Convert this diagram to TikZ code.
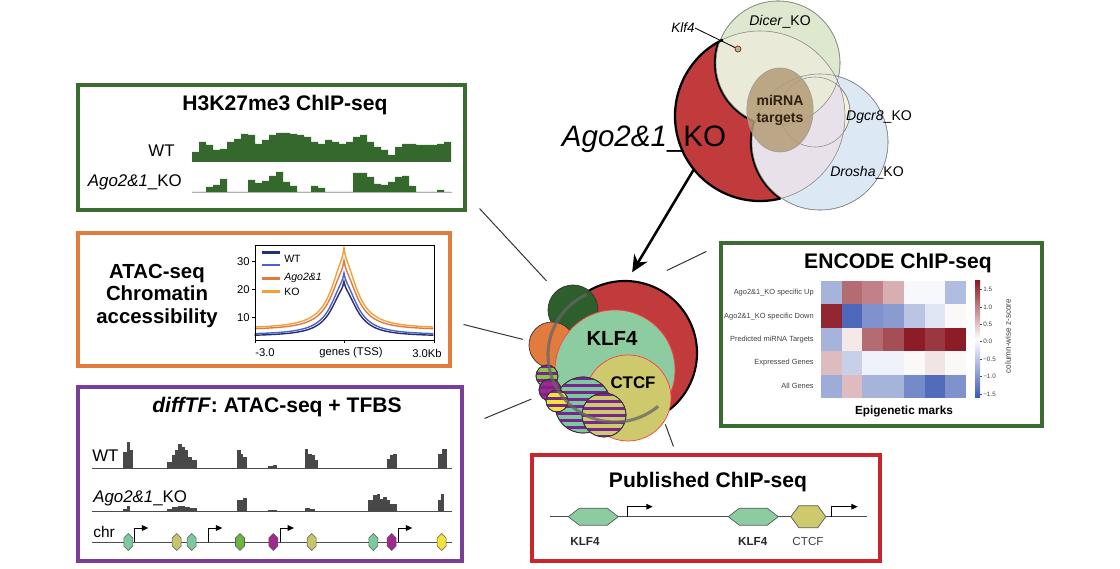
\documentclass[tikz,border=0pt]{standalone}
\usepackage{fontspec}
\setmainfont{Liberation Sans}
\usetikzlibrary{
    arrows.meta,
    fit,
    shapes.geometric
}
\definecolor{panelgreen}{RGB}{58,108,50}
\definecolor{panelorange}{RGB}{226,124,62}
\definecolor{panelpurple}{RGB}{122,62,150}
\definecolor{panelred}{RGB}{200,38,44}
\definecolor{h3trk}{RGB}{52,104,44}
\definecolor{atactrk}{RGB}{72,72,72}
\definecolor{wtnavy}{RGB}{40,45,120}
\definecolor{wtblue}{RGB}{75,100,200}
\definecolor{koorange}{RGB}{228,120,62}
\definecolor{kolight}{RGB}{240,162,52}
\definecolor{agored}{RGB}{193,58,60}
\definecolor{dicergreen}{RGB}{221,232,206}
\definecolor{droshablue}{RGB}{220,233,245}
\definecolor{dgcryellow}{RGB}{244,243,220}
\definecolor{overlapgreen}{RGB}{233,234,216}
\definecolor{overlaplav}{RGB}{233,225,234}
\definecolor{mirtan}{RGB}{180,156,118}
\definecolor{klfgreen}{RGB}{141,204,160}
\definecolor{ctcfolive}{RGB}{205,201,108}
\definecolor{hubdark}{RGB}{46,94,44}
\definecolor{tfteal}{RGB}{126,200,160}
\definecolor{tfolive}{RGB}{197,197,106}
\definecolor{tfgreen}{RGB}{109,179,63}
\definecolor{tfmagenta}{RGB}{160,40,143}
\definecolor{tfyellow}{RGB}{242,227,55}
\definecolor{stripepurple}{RGB}{118,38,140}
\definecolor{stripegreen}{RGB}{140,195,74}
\definecolor{hmred}{RGB}{140,28,38}
\definecolor{hmblue}{RGB}{58,88,178}
\tikzset{
  panel/.style   = {draw, line width=2.2pt, inner sep=0pt},
  ptitle/.style  = {font=\fontsize{15}{18}\selectfont\bfseries},
  trklab/.style  = {font=\fontsize{12}{14}\selectfont, inner sep=0pt},
  link/.style    = {black!80, line width=0.7pt},
  disc/.style    = {circle, draw=black!80, inner sep=0pt, line width=0.5pt},
  vdisc/.style   = {circle, draw=black!45, inner sep=0pt, line width=0.4pt},
  vlab/.style    = {font=\fontsize{10}{12}\selectfont, inner sep=0pt},
  site/.style    = {draw=black!65, line width=0.5pt},
  tss/.style     = {-{Triangle[length=4.5pt,width=4pt]}, line width=0.6pt}
}
\newcommand{\stripedisc}[6]{%
  \node[disc, fill=#5, minimum size={\dimexpr 0.05cm*#4\relax}] (#1) at (#2,#3) {};
  \begin{scope}
    \clip (#2,#3) circle (#4);
    \foreach \s in {0,7,...,56}
      \fill[#6] ({#2-#4},{#3-#4+\s}) rectangle ++({2*#4},3.5);
  \end{scope}
  \draw[black!80, line width=.5pt] (#2,#3) circle (#4);}
% x, y, half width, half height, tip, colour
\newcommand{\hsite}[6]{%
  \draw[site, fill=#6] ({#1-#3},#2) -- ({#1-#3+#5},{#2-#4}) -- ({#1+#3-#5},{#2-#4})
    -- ({#1+#3},#2) -- ({#1+#3-#5},{#2+#4}) -- ({#1-#3+#5},{#2+#4}) -- cycle;}
\newcommand{\vsite}[6]{%
  \draw[site, line width=.4pt, fill=#6] (#1,{#2-#4}) -- ({#1+#3},{#2-#4+#5}) -- ({#1+#3},{#2+#4-#5})
    -- (#1,{#2+#4}) -- ({#1-#3},{#2+#4-#5}) -- ({#1-#3},{#2-#4+#5}) -- cycle;}

\begin{document}
\begin{tikzpicture}[x=0.025cm, y=-0.025cm,
    hmlab/.style={font=\fontsize{5.3}{6}\selectfont, text=black!75, anchor=east, inner sep=0pt},
    cblab/.style={font=\fontsize{4.5}{5}\selectfont, text=black!75, anchor=west, inner sep=0pt},
    axlab/.style={font=\fontsize{8}{9}\selectfont, inner sep=0pt},
    leglab/.style={font=\fontsize{7.5}{9}\selectfont, inner sep=0pt, anchor=west},
    sitelab/.style={font=\fontsize{8.3}{10}\selectfont, inner sep=0pt},
    bigarr/.style={-{Stealth[length=12pt,width=11pt]}, line width=1.8pt}
  ]
  \useasboundingbox (0,0) rectangle (1120,569);

  \node[panel, draw=panelgreen,  fit={(78,85) (465,210)}]    (h3k)    {};
  \node[panel, draw=panelorange, fit={(78,233) (450,366)}]   (atac)   {};
  \node[panel, draw=panelpurple, fit={(78,387) (462,561)}]   (diff)   {};
  \node[panel, draw=panelgreen,  fit={(721,243) (1042,426)}] (encode) {};
  \node[panel, draw=panelred,    fit={(532,455) (880,561)}]  (pub)    {};

  % H3K27me3
  \node[ptitle] (h3ktitle) at (285,105) {H3K27me3 ChIP-seq};
  \node[trklab, anchor=base east] (h3kwt) at (175,157) {WT};
  \node[trklab, anchor=base east] (h3kko) at (182,187) {\textit{Ago2\&1}\_KO};
  \fill[h3trk] (192,162) \foreach \h [count=\i from 0] in {10,20,17,12,13,20,23,28,27,18,22,27,29,29,28,27,25,20,18,22,20,18,20,25,27,20,15,12,7,15,18,18,17,17,17,18,20}
    { -- ({192+7*\i},{162-\h}) -- ({199+7*\i},{162-\h}) } -- (451,162) -- cycle;
  \draw[black!30, line width=.4pt] (192,192) -- (452,192);
  \fill[h3trk] (192,192) \foreach \h [count=\i from 0] in {0,0,5,7,13,0,0,0,12,9,11,16,20,10,6,0,0,6,4,0,0,0,0,19,19,15,8,7,10,15,16,6,0,0,0,2,0}
    { -- ({192+7*\i},{192-\h}) -- ({199+7*\i},{192-\h}) } -- (451,192) -- cycle;

  % ATAC-seq
  \node[font=\fontsize{14.5}{16.3}\selectfont\bfseries, align=center] (atactitle) at (157,296) {ATAC-seq\\Chromatin\\accessibility};
  \foreach \col/\lo/\hi in {kolight/6/35, koorange/5.5/30.5, wtblue/3.8/26, wtnavy/3.3/23}
    \draw[\col, line width=1pt] plot[domain=-3:3, samples=151]
      ({344+29.8*\x}, {345.7-2.8*(\lo+(\hi-\lo)*(0.15*exp(-abs(\x)/0.05)+0.85/(1+(\x/0.5)^2)))});
  \draw[line width=.5pt] (255,245) rectangle (434,340);
  \foreach \v in {10,20,30} {
    \draw[line width=.5pt] (255,{345.7-2.8*\v}) -- ++(-3,0);
    \node[axlab, anchor=east] (ytick\v) at (250,{345.7-2.8*\v}) {\v};
  }
  \foreach \tx in {255,344,434} \draw[line width=.5pt] (\tx,340) -- ++(0,3);
  \node[axlab] (xmin) at (265,353) {-3.0};
  \node[axlab] (xmid) at (351,353) {genes (TSS)};
  \node[axlab] (xmax) at (427,353) {3.0Kb};
  \foreach \col/\ly in {wtnavy/252.7, wtblue/265, koorange/278.3, kolight/291.7}
    \draw[\col, line width=2pt] (262,\ly) -- (280,\ly);
  \node[leglab] (legwt) at (284,258.5) {WT};
  \node[leglab] (legago) at (284,278.3) {\textit{Ago2\&1}};
  \node[leglab] (legko) at (284,291.7) {KO};

  % diffTF
  \node[ptitle] (difftitle) at (277,407) {\textit{diffTF}: ATAC-seq + TFBS};
  \node[trklab, anchor=base west] (diffwt) at (92,462) {WT};
  \node[trklab, anchor=base west] (diffko) at (93,503) {\textit{Ago2\&1}\_KO};
  \node[trklab, font=\fontsize{11}{12}\selectfont, anchor=base west] (chr) at (93,538) {chr};
  \foreach \bx/\bw/\bh in {123.3/3.4/16, 126.7/3.4/26, 130.1/3.3/18,
      166.7/5/6, 171.7/3.4/13, 175.1/3.3/18, 178.4/3.3/24, 181.7/3.3/21, 185/3.3/18, 188.3/3.4/11, 191.7/5/8,
      237.3/3.4/18, 240.7/2.6/14, 243.3/3.4/11, 268/5/2, 273/4/3,
      305/3.3/19, 308.3/4/14, 312.3/2.7/13, 315/3.3/8,
      386.7/3.3/9, 390/3.3/13, 393.3/3.4/14, 437.7/4/14, 441.7/5/19}
    \fill[atactrk] (\bx,468) rectangle ++(\bw,-\bh);
  \foreach \bx/\bw/\bh in {123.3/3.4/3, 126.7/3.4/6,
      166.7/5/3, 171.7/6.6/5, 178.3/6.7/6, 185/5/5, 190/6.7/4,
      237.3/6/12, 243.3/4/14, 267.7/9/2, 305/5/4, 310/5/3,
      367.7/5.6/12, 373.3/3.4/17, 376.7/3.3/18, 380/3.3/13, 383.3/3.4/15, 386.7/3.3/12, 390/6.7/8,
      437.7/3.3/12, 441/3.3/18}
    \fill[atactrk] (\bx,511.7) rectangle ++(\bw,-\bh);
  \draw[black!70, line width=.6pt] (92,468) -- (452,468);
  \draw[black!70, line width=.6pt] (92,511.7) -- (452,511.7);
  \draw[black!70, line width=.6pt] (92,542) -- (452,542);
  \foreach \px in {134.3,208.3,280,398.3}
    \draw[tss] (\px,542) -- ++(0,-14) -- ++(14,0);
  \foreach \hx/\hc in {128.3/tfteal, 176.7/tfolive, 191.7/tfteal, 240/tfgreen, 273.3/tfmagenta,
      311.7/tfolive, 373.3/tfteal, 391.7/tfmagenta, 441.7/tfyellow}
    {\vsite{\hx}{542}{4.5}{8.5}{4.5}{\hc}}

  % published ChIP-seq
  \node[ptitle] (pubtitle) at (708,482) {Published ChIP-seq};
  \draw[black!70, line width=.6pt] (550,516.7) -- (866.7,516.7);
  \draw[tss] (627.7,516.7) -- ++(0,-10) -- ++(25,0);
  \draw[tss] (831.7,516.7) -- ++(0,-10) -- ++(26,0);
  \hsite{593.3}{516.7}{25}{8.5}{11}{klfgreen}
  \hsite{753.3}{516.7}{25}{8.5}{11}{klfgreen}
  \hsite{808.3}{516.7}{17.5}{11}{8}{ctcfolive}
  \node[sitelab, font=\fontsize{8.3}{10}\selectfont\bfseries, text=black!85] (klfname1) at (585,541.7) {KLF4};
  \node[sitelab, font=\fontsize{8.3}{10}\selectfont\bfseries, text=black!85] (klfname2) at (752.7,541.7) {KLF4};
  \node[sitelab, text=black!75] (ctcfname) at (808,541.7) {CTCF};

  % ENCODE ChIP-seq
  \node[ptitle] (enctitle) at (898,263) {ENCODE ChIP-seq};
  \foreach \cells [count=\r from 0] in {
      {hmblue!45, hmred!65, hmred!55, hmred!35, hmblue!4, hmblue!4, hmblue!40},
      {hmred!95, hmblue!90, hmblue!65, hmblue!60, hmblue!35, hmblue!15, hmred!3},
      {hmblue!45, hmred!10, hmred!65, hmred!78, hmred!100, hmred!88, hmred!100},
      {hmred!30, hmblue!28, hmblue!8, hmblue!8, hmred!3, hmred!12, hmred!3},
      {hmblue!50, hmred!30, hmblue!45, hmblue!45, hmblue!70, hmblue!88, hmblue!65}}
    \foreach \c [count=\k from 0] in \cells
      \fill[\c] ({821+20.7*\k},{281+23.4*\r}) rectangle ++(20.7,23.4);
  \foreach \lab [count=\r from 0] in {Ago2\&1\_KO specific Up, Ago2\&1\_KO specific Down,
      Predicted miRNA Targets, Expressed Genes, All Genes}
    \node[hmlab] (row\r) at (814,{292.7+23.4*\r}) {\lab};
  \shade[top color=hmred, bottom color=hmblue, middle color=white] (975,281) rectangle (980,398);
  \foreach \t/\s [count=\n] in {1.5/1.5, 1.0/1.0, 0.5/0.5, 0.0/0.0, -0.5/−0.5, -1.0/−1.0, -1.5/−1.5} {
    \draw[black!70, line width=.3pt] (980,{341.7-34.8*\t}) -- ++(2,0);
    \node[cblab] (cbtick\n) at (983,{341.7-34.8*\t}) {\s};
  }
  \node[font=\fontsize{5.8}{7}\selectfont, rotate=90, text=black!75, inner sep=0pt] (zlab) at (1008,336) {column-wise z-score};
  \node[font=\fontsize{8.4}{10}\selectfont\bfseries] (marks) at (904,411) {Epigenetic marks};

  % knock-out overlap
  \node[vdisc, fill=dicergreen, minimum size=3.1cm] (dicer) at (778,63) {};
  \node[vdisc, fill=droshablue, minimum size=3.4cm] (drosha) at (820,142) {};
  \node[vdisc, fill=dgcryellow, minimum size=1.75cm] (dgcr) at (815,112) {};
  \node[vdisc, draw=none, fill=agored, minimum size=4.25cm] (ago) at (760,116) {};
  \begin{scope}
    \clip (760,116) circle (85);
    \draw[line width=3pt, fill=overlaplav] (820,142) circle (68);
    \draw[line width=3pt, fill=overlapgreen] (778,63) circle (62);
    \fill[overlaplav] (820,142) circle (68);
    \fill[overlapgreen] (778,63) circle (62);
  \end{scope}
  \draw[black!45, line width=.4pt] (760,116) circle (85) (778,63) circle (62)
    (820,142) circle (68) (815,112) circle (35);
  \draw[line width=1.6pt] (760,116) ++(76:85) arc[start angle=76, end angle=244, radius=85];
  \node[ellipse, draw=black!40, line width=.4pt, fill=mirtan, fill opacity=.85, text opacity=1,
        minimum width=1.65cm, minimum height=2.1cm, inner sep=0pt, align=center,
        font=\fontsize{10}{12}\selectfont\bfseries, text=black!75!brown] (mirna) at (780,110) {miRNA\\targets};
  \node[vlab, font=\fontsize{9.6}{11}\selectfont\itshape] (klf4lab) at (683,28) {Klf4};
  \node[circle, fill=klfgreen, draw=red!80!black, line width=.5pt, minimum size=.15cm, inner sep=0pt] (klf4dot) at (738,49) {};
  \draw[line width=.6pt] (klf4lab.east) -- (klf4dot);
  \node[vlab] (dicerlab) at (780,22) {\textit{Dicer}\_KO};
  \node[vlab] (dgcrlab) at (879,117) {\textit{Dgcr8}\_KO};
  \node[vlab] (droshalab) at (867,173) {\textit{Drosha}\_KO};
  \node[font=\fontsize{21}{24}\selectfont, inner sep=0pt] (agolab) at (644,139) {\textit{Ago2\&1}\_KO};

  % KLF4 hub
  \node[disc, draw=black, line width=1.5pt, fill=agored, minimum size=3.6cm] (bigred) at (625,353) {};
  \node[disc, fill=hubdark, minimum size=1.25cm] (dgcirc) at (573,310) {};
  \node[disc, fill=panelorange, minimum size=1.15cm] (orcirc) at (552,345) {};
  \node[disc, draw=red!75, fill=klfgreen, minimum size=3cm] (klf) at (615,370) {};
  \node[disc, draw=red!75, fill=ctcfolive, minimum size=2.15cm] (ctcf) at (628,398) {};
  \stripedisc{tpdot}{583}{405}{28}{tfteal}{stripepurple}
  \stripedisc{opdot}{604}{415}{22}{ctcfolive}{stripepurple}
  \stripedisc{gpdot}{547}{376}{11}{stripegreen}{stripepurple}
  \stripedisc{purdot}{550}{390}{11}{tfmagenta}{stripepurple}
  \stripedisc{ypdot}{557}{401}{11}{tfyellow}{stripepurple}
  \draw[line width=2.2pt, black!60, opacity=.75] (615,355) ++(50:67) arc[start angle=50, end angle=245, radius=67];
  \node[font=\fontsize{14.5}{16}\selectfont\bfseries, inner sep=0pt] (klflab) at (612,338) {KLF4};
  \node[font=\fontsize{12}{14}\selectfont\bfseries, inner sep=0pt] (ctcflab) at (633,383) {CTCF};

  \draw[link, shorten >=10pt] ([shift={(13,-3)}]h3k.south east) -- (dgcirc.132);
  \draw[link, shorten >=4.6pt] ([shift={(12,25)}]atac.east) -- (orcirc.170);
  \draw[link, shorten >=6.8pt] ([shift={(21,33)}]diff.north east) -- (purdot.209);
  \draw[link, shorten >=19pt] ([shift={(-13,10)}]encode.north west) -- (bigred.76);
  \draw[link, shorten >=2pt] ([shift={(143,-7)}]pub.north west) -- (ctcf.-33);
  \draw[bigarr, shorten >=6.4pt] (ago.219) -- (bigred.88);
\end{tikzpicture}
\end{document}
